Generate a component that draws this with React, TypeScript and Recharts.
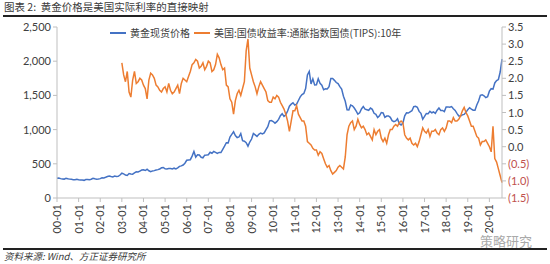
import React from 'react';
import { LineChart, Line, XAxis, YAxis, Legend } from 'recharts';

// monthly, 2000-01 .. 2020-08
const years = ['00', '01', '02', '03', '04', '05', '06', '07', '08', '09', '10', '11', '12', '13', '14', '15', '16', '17', '18', '19', '20'];
const months = ['01', '02', '03', '04', '05', '06', '07', '08', '09', '10', '11', '12'];

// 黄金现货价格 (USD/oz)
const goldPrice = [
    288, 293, 283, 278, 276, 289, 282, 276, 273, 268, 266, 273,
    266, 262, 264, 258, 270, 272, 267, 274, 287, 280, 274, 278,
    283, 296, 294, 303, 315, 322, 314, 309, 320, 316, 318, 336,
    362, 352, 336, 330, 358, 352, 348, 366, 382, 380, 394, 408,
    412, 402, 420, 398, 385, 396, 400, 410, 415, 424, 442, 446,
    426, 424, 432, 430, 424, 436, 426, 440, 462, 470, 482, 508,
    552, 556, 560, 612, 680, 598, 632, 628, 596, 588, 626, 628,
    632, 668, 654, 680, 668, 652, 666, 664, 712, 758, 808, 806,
    892, 930, 968, 912, 884, 892, 942, 838, 830, 808, 758, 818,
    862, 944, 922, 900, 932, 948, 936, 952, 998, 1042, 1128, 1132,
    1118, 1094, 1116, 1150, 1202, 1232, 1194, 1216, 1272, 1342, 1372, 1392,
    1358, 1372, 1426, 1478, 1512, 1528, 1600, 1800, 1850, 1668, 1742, 1652,
    1656, 1742, 1676, 1650, 1584, 1596, 1594, 1628, 1748, 1746, 1720, 1688,
    1672, 1628, 1592, 1488, 1414, 1290, 1286, 1360, 1348, 1316, 1274, 1226,
    1246, 1302, 1336, 1298, 1290, 1282, 1314, 1296, 1238, 1224, 1176, 1202,
    1250, 1244, 1180, 1198, 1200, 1180, 1130, 1116, 1126, 1158, 1086, 1068,
    1096, 1202, 1246, 1242, 1260, 1276, 1336, 1340, 1326, 1266, 1238, 1152,
    1192, 1236, 1232, 1266, 1246, 1258, 1236, 1284, 1316, 1280, 1280, 1264,
    1330, 1332, 1326, 1336, 1304, 1280, 1238, 1200, 1198, 1216, 1222, 1252,
    1292, 1320, 1300, 1284, 1284, 1360, 1418, 1502, 1510, 1494, 1468, 1480,
    1562, 1598, 1592, 1682, 1716, 1732, 1842, 2030,
];

// 美国:国债收益率:通胀指数国债(TIPS):10年 (%), starts 2003-01
const tipsStartYear = '03';
const tipsYield = [
    2.45, 2.1, 1.9, 2.2, 1.6, 1.45, 1.95, 2.2, 1.85, 1.9, 2.0, 1.95,
    1.8, 1.7, 1.4, 1.95, 2.15, 2.1, 2.0, 1.8, 1.75, 1.65, 1.6, 1.7,
    1.75, 1.6, 1.85, 1.65, 1.55, 1.6, 1.7, 1.8, 1.55, 1.85, 2.0, 1.95,
    1.9, 2.05, 2.2, 2.4, 2.45, 2.55, 2.5, 2.3, 2.35, 2.45, 2.25, 2.35,
    2.5, 2.45, 2.2, 2.25, 2.4, 2.7, 2.6, 2.4, 2.25, 2.3, 1.8, 1.75,
    1.4, 1.3, 0.95, 1.35, 1.55, 1.65, 1.5, 1.7, 1.9, 2.8, 3.15, 2.3,
    2.1, 1.9, 1.75, 1.55, 1.75, 1.9, 1.8, 1.7, 1.6, 1.35, 1.3, 1.3,
    1.45, 1.4, 1.5, 1.45, 1.3, 1.2, 1.1, 0.95, 0.75, 0.45, 0.75, 1.05,
    1.05, 1.2, 0.95, 0.85, 0.75, 0.75, 0.6, 0.15, 0.1, 0.05, -0.05, -0.1,
    -0.1, -0.25, -0.15, -0.2, -0.35, -0.5, -0.6, -0.55, -0.7, -0.8, -0.75, -0.7,
    -0.6, -0.55, -0.6, -0.65, -0.3, 0.35, 0.6, 0.7, 0.75, 0.5, 0.6, 0.8,
    0.65, 0.55, 0.6, 0.5, 0.35, 0.4, 0.3, 0.2, 0.5, 0.35, 0.45, 0.5,
    0.25, 0.15, 0.25, 0.1, 0.35, 0.5, 0.5, 0.6, 0.65, 0.6, 0.7, 0.75,
    0.7, 0.35, 0.25, 0.2, 0.25, 0.1, 0.05, 0.1, 0.0, 0.15, 0.35, 0.55,
    0.45, 0.4, 0.5, 0.3, 0.45, 0.45, 0.5, 0.4, 0.35, 0.5, 0.55, 0.45,
    0.55, 0.75, 0.75, 0.7, 0.85, 0.75, 0.75, 0.8, 0.9, 1.05, 1.15, 1.0,
    0.9, 0.75, 0.6, 0.6, 0.45, 0.3, 0.25, 0.05, 0.15, 0.15, 0.2, 0.1,
    0.0, -0.15, 0.6, -0.35, -0.45, -0.65, -0.85, -1.05,
];

const goldTicks = [0, 500, 1000, 1500, 2000, 2500];
const tipsTicks = [-1.5, -1.0, -0.5, 0, 0.5, 1.0, 1.5, 2.0, 2.5, 3.0, 3.5];

const GOLD = '#4472C4';
const TIPS = '#ED7D31';
const AXIS = '#BFBFBF';
const TXT = '#404040';

const monthLabels = years.flatMap(y => months.map(m => `${y}-${m}`)).slice(0, goldPrice.length);
const tipsOffset = monthLabels.indexOf(`${tipsStartYear}-01`);

const data = monthLabels.map((label, i) => ({
    label,
    gold: goldPrice[i],
    tips: i >= tipsOffset ? tipsYield[i - tipsOffset] : null,
}));

const XTick = ({ x, y, payload }: any) => (
    <g transform={`translate(${x},${y})`}>
        <text transform="rotate(-90)" x={0} y={0} dy={4} textAnchor="end" fill={TXT} fontSize={11} fontFamily="Lato">
            {payload.value}
        </text>
    </g>
);

const RightTick = ({ x, y, payload }: any) => {
    const v = payload.value as number;
    const neg = v < 0;
    return (
        <text x={x} y={y} dy={4} textAnchor="start" fill={neg ? '#C0504D' : TXT} fontSize={11} fontFamily="Lato">
            {neg ? `(${Math.abs(v).toFixed(1)})` : v.toFixed(1)}
        </text>
    );
};

const LegendContent = () => (
    <div style={{ display: 'flex', alignItems: 'center', fontSize: 10, color: TXT, fontFamily: '"Noto Sans CJK SC"', whiteSpace: 'nowrap' }}>
        <span style={{ display: 'inline-block', width: 16, height: 2, background: GOLD, marginRight: 4 }} />
        <span style={{ marginRight: 4 }}>黄金现货价格</span>
        <span style={{ display: 'inline-block', width: 16, height: 2, background: TIPS, marginRight: 4 }} />
        <span>美国:国债收益率:通胀指数国债(TIPS):10年</span>
    </div>
);

export default function App() {
    return (
        <div style={{ position: 'absolute', left: 0, top: 0, width: 550, height: 264, background: '#fff', overflow: 'hidden' }}>
            <div style={{ position: 'absolute', left: 4, top: 0, fontSize: 10.5, lineHeight: '14px', color: '#3a3a3a', fontFamily: '"Noto Sans CJK SC"' }}>
                图表 2:&nbsp;&nbsp;黄金价格是美国实际利率的直接映射
            </div>
            <div style={{ position: 'absolute', left: 3, right: 3, top: 15, height: 2, background: '#222' }} />
            <div style={{ position: 'absolute', left: 0, top: 0 }}>
                <LineChart width={550} height={240} data={data} margin={{ top: 27, right: 8, bottom: 2, left: 0 }}>
                    <XAxis
                        dataKey="label"
                        interval={11}
                        tick={<XTick />}
                        tickSize={4}
                        tickMargin={2}
                        height={40}
                        stroke={AXIS}
                    />
                    <YAxis
                        yAxisId="gold"
                        domain={[0, 2500]}
                        ticks={goldTicks}
                        interval={0}
                        tickFormatter={(v: number) => v.toLocaleString('en-US')}
                        width={57}
                        tickSize={4}
                        stroke={AXIS}
                        tick={{ fill: TXT, fontSize: 11, fontFamily: 'Lato' }}
                    />
                    <YAxis
                        yAxisId="tips"
                        orientation="right"
                        domain={[-1.5, 3.5]}
                        ticks={tipsTicks}
                        interval={0}
                        width={40}
                        tickSize={4}
                        stroke={AXIS}
                        tick={<RightTick />}
                    />
                    <Legend
                        verticalAlign="middle"
                        align="center"
                        content={<LegendContent />}
                        wrapperStyle={{ top: 25, left: 110, width: 'auto' }}
                    />
                    <Line yAxisId="gold" dataKey="gold" stroke={GOLD} strokeWidth={1.5} dot={false} isAnimationActive={false} />
                    <Line yAxisId="tips" dataKey="tips" stroke={TIPS} strokeWidth={1.5} dot={false} isAnimationActive={false} connectNulls={false} />
                </LineChart>
            </div>
            <div style={{ position: 'absolute', left: 3, right: 3, top: 248, height: 2, background: '#222' }} />
            <div style={{ position: 'absolute', left: 4, top: 250, fontSize: 9.5, lineHeight: '13px', color: '#3a3a3a', fontStyle: 'italic', fontFamily: '"Noto Sans CJK SC"' }}>
                资料来源: Wind、方正证券研究所
            </div>
            <div style={{ position: 'absolute', left: 480, top: 231, fontSize: 13, color: '#aaa', fontFamily: '"Noto Sans CJK SC"' }}>
                策略研究
            </div>
        </div>
    );
}
